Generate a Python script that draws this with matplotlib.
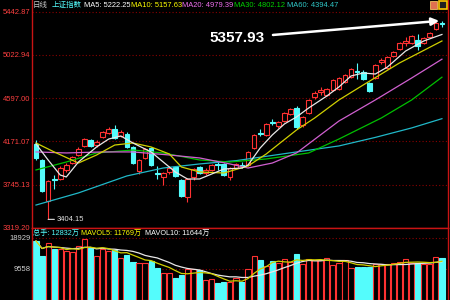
import matplotlib
matplotlib.use("Agg")
import matplotlib.pyplot as plt
from matplotlib.patches import Rectangle
import numpy as np
import pandas as pd

plt.rcParams['font.family'] = ['Liberation Sans', 'Noto Sans CJK SC', 'DejaVu Sans']

# ---------------- data ----------------
opens = [4145, 3988, 3585, 3801, 3801, 3889, 3958, 4037, 4126, 4184,
         4135, 4214, 4253, 4292, 4224, 4244, 4116, 3879, 4007, 4106,
         3860, 3821, 3870, 3919, 3791, 3624, 3821, 3919, 3860, 3889,
         3948, 3948, 3821, 3909, 3938, 3938, 4106, 4253, 4234, 4361,
         4322, 4371, 4440, 4499, 4332, 4450, 4607, 4656, 4627, 4676,
         4686, 4755, 4804, 4863, 4853, 4745, 4794, 4951, 4892, 5010,
         5079, 5138, 5138, 5168, 5138, 5197, 5276, 5335]
highs = [4184, 3995, 3791, 3840, 3929, 3958, 4027, 4115, 4204, 4194,
         4184, 4273, 4312, 4332, 4283, 4263, 4126, 3998, 4106, 4116,
         3929, 3870, 3929, 3929, 3801, 3811, 3909, 3929, 3909, 3948,
         3978, 3958, 3919, 3958, 3968, 4076, 4243, 4292, 4352, 4391,
         4371, 4460, 4499, 4519, 4420, 4588, 4666, 4705, 4696, 4784,
         4804, 4833, 4892, 4941, 4872, 4755, 4932, 4990, 5010, 5059,
         5148, 5197, 5217, 5227, 5197, 5246, 5345, 5357.93]
lows = [3988, 3670, 3404.15, 3703, 3791, 3870, 3948, 4027, 4116, 4116,
        4116, 4204, 4243, 4194, 4214, 4106, 3948, 3850, 3998, 3929,
        3801, 3742, 3850, 3821, 3624, 3575, 3791, 3850, 3840, 3879,
        3889, 3830, 3791, 3899, 3909, 3929, 4096, 4224, 4224, 4332,
        4302, 4361, 4430, 4292, 4312, 4440, 4588, 4627, 4617, 4666,
        4676, 4745, 4794, 4784, 4774, 4656, 4784, 4932, 4882, 5000,
        5069, 5109, 5128, 5069, 5128, 5187, 5266, 5295]
closes = [4007, 3683, 3781, 3791, 3909, 3939, 4017, 4096, 4194, 4126,
          4165, 4263, 4292, 4204, 4263, 4116, 3958, 3988, 4096, 3939,
          3850, 3860, 3909, 3830, 3634, 3801, 3899, 3860, 3889, 3939,
          3938, 3840, 3909, 3948, 3929, 4066, 4234, 4243, 4342, 4352,
          4361, 4450, 4489, 4312, 4410, 4578, 4646, 4676, 4686, 4774,
          4794, 4823, 4882, 4853, 4784, 4666, 4922, 4971, 5000, 5049,
          5138, 5158, 5207, 5109, 5187, 5236, 5335, 5325]
volumes = [18000, 13420, 17480, 15650, 15460, 14950, 14640, 16470, 18510, 15950,
           13420, 15460, 14950, 15160, 12900, 13730, 11680, 11380, 11380, 11900,
           9850, 8330, 8140, 6620, 7530, 9360, 9360, 9060, 6010, 6310,
           5280, 5490, 5580, 6710, 5580, 9360, 13420, 12110, 10370, 11900,
           11380, 12410, 11680, 13940, 10890, 12600, 12110, 12110, 12720, 10580,
           11380, 12200, 9850, 10070, 10070, 10070, 10890, 11070, 11000, 11300,
           11500, 12500, 11300, 11300, 11000, 10900, 13000, 12832]

ma5_idx = [0, 2, 4, 5, 7, 10, 12, 14, 16, 19, 21, 23, 25, 27, 29, 31, 34, 35, 37,
           39, 41, 43, 45, 48, 50, 52, 54, 56, 58, 61, 64, 67]
ma5_val = [4145, 3988, 3840, 3821, 3968, 4116, 4194, 4224, 4155, 4067, 3968, 3870,
           3801, 3801, 3850, 3899, 3909, 3939, 4106, 4234, 4342, 4411, 4499, 4617,
           4706, 4814, 4843, 4833, 4902, 5059, 5158, 5222]
ma10_idx = [0, 3, 7, 10, 13, 16, 19, 22, 24, 27, 31, 35, 38, 43, 46, 50, 54, 60, 67]
ma10_val = [4155, 4067, 3958, 4037, 4135, 4155, 4116, 4047, 3919, 3870, 3860, 3929,
            4047, 4283, 4401, 4578, 4725, 4942, 5158]
ma20_idx = [0, 5, 11, 16, 22, 27, 32, 35, 39, 43, 50, 56, 62, 67]
ma20_val = [4067, 4057, 4067, 4067, 4037, 4008, 3949, 3909, 3958, 4057, 4371, 4578,
            4794, 4979]
ma30_idx = [0, 5, 10, 16, 21, 27, 32, 38, 45, 50, 57, 62, 67]
ma30_val = [3890, 3968, 4057, 4086, 4057, 3988, 3968, 3998, 4057, 4194, 4401, 4578, 4802]
ma60_idx = [0, 7, 15, 21, 27, 33, 43, 50, 56, 62, 67]
ma60_val = [3545, 3664, 3831, 3909, 3949, 3981, 4067, 4126, 4210, 4303, 4394]

price_ticks = [5442.87, 5022.94, 4597.00, 4171.07, 3745.13, 3319.20]
vol_ticks = [18929, 9558]

title_items = [("日线", '#c8c8c8'), ("上证指数", '#54fcfc'),
               ("MA5: 5222.25", '#ffffff'), ("MA10: 5157.63", '#ffff00'),
               ("MA20: 4979.39", '#f070f0'), ("MA30: 4802.12", '#00d000'),
               ("MA60: 4394.47", '#30c8c8')]
title_x = [33, 52, 84, 131, 182, 234, 287]
vol_items = [("总手: 12832万", '#54fcfc'), ("MAVOL5: 11769万", '#ffff00'),
             ("MAVOL10: 11644万", '#ffffff')]
vol_x = [33, 81, 145]

# ---------------- style ----------------
RED = '#ff3232'
CYAN = '#54fcfc'
FRAME = '#c81414'
GRID = '#8a0000'

W, H = 450, 300
fig = plt.figure(figsize=(W / 100, H / 100), dpi=100, facecolor='black')


def box(x0, y0, x1, y1):
    return [x0 / W, 1 - y1 / H, (x1 - x0) / W, (y1 - y0) / H]


ax = fig.add_axes(box(32, 0, 448, 228))
axv = fig.add_axes(box(32, 228, 448, 300))

n = len(closes)
x = np.arange(n)
o = np.array(opens, float)
h = np.array(highs, float)
l = np.array(lows, float)
c = np.array(closes, float)
up = c >= o
cols = np.where(up, RED, CYAN)

p_top = price_ticks[0] + 12 * (price_ticks[0] - price_ticks[-1]) / 216
for a in (ax, axv):
    a.set_facecolor('black')
    a.set_xlim(-0.66, n)
    a.set_xticks([])
    for s in a.spines.values():
        s.set_color(FRAME)
        s.set_linewidth(1)
    a.tick_params(axis='y', length=0, pad=1.2, labelsize=5.5)

ax.set_ylim(price_ticks[-1], p_top)
ax.spines['top'].set_visible(False)
ax.set_yticks(price_ticks)
ax.set_yticklabels(['%.2f' % v for v in price_ticks])
ax.tick_params(axis='y', labelcolor='#ff4040')
for v in price_ticks[:-1]:
    ax.axhline(v, color=GRID, lw=0.8, ls=(0, (1, 2)), zorder=0)

# candles
body_lo = np.minimum(o, c)
body_hi = np.maximum(o, c)
heights = np.maximum(body_hi - body_lo, 2.0)
ax.vlines(x, l, body_lo, colors=cols, lw=0.8, zorder=2)
ax.vlines(x, body_hi, h, colors=cols, lw=0.8, zorder=2)
ax.bar(x, heights, bottom=body_lo, width=0.78,
       color=np.where(up, 'black', CYAN), edgecolor=cols, linewidth=0.8, zorder=3)

# moving averages
ax.plot(ma60_idx, ma60_val, color='#20b8c8', lw=0.9, zorder=4)
ax.plot(ma30_idx, ma30_val, color='#00c000', lw=0.9, zorder=4)
ax.plot(ma20_idx, ma20_val, color='#d060d0', lw=0.9, zorder=4)
ax.plot(ma10_idx, ma10_val, color='#d0d000', lw=0.9, zorder=4)
ax.plot(ma5_idx, ma5_val, color='#e8e8e8', lw=0.9, zorder=5)

# annotations
imin = int(np.argmin(l))
ax.annotate('%.2f' % l[imin], xy=(imin, l[imin]), xytext=(6.5, 0),
            textcoords='offset points', color='#e0e0e0', fontsize=5.5,
            va='center', ha='left',
            arrowprops=dict(arrowstyle='-', color='#e0e0e0', lw=0.8,
                            shrinkA=0, shrinkB=0), zorder=6)
imax = int(np.argmax(h))
ax.annotate('%.2f' % h[imax], xy=(imax, h[imax]), xytext=(-147.5, -12.5),
            textcoords='offset points', color='white', fontsize=11,
            fontweight='bold', va='center', ha='center',
            arrowprops=dict(arrowstyle='-|>', color='white', lw=1.8,
                            mutation_scale=11, shrinkA=4, shrinkB=2), zorder=6)

# volume panel
vmax = 72 * 305
axv.set_ylim(0, vmax)
axv.spines['bottom'].set_visible(False)
axv.set_yticks(vol_ticks)
axv.set_yticklabels([str(v) for v in vol_ticks])
axv.tick_params(axis='y', labelcolor='#d0d0d0')
for v in vol_ticks:
    axv.axhline(v, color=GRID, lw=0.8, ls=(0, (1, 2)), zorder=0)
axv.bar(x, volumes, width=0.86, color=np.where(up, 'black', CYAN),
        edgecolor=cols, linewidth=0.8, zorder=2)
vs = pd.Series(volumes, dtype=float)
axv.plot(x, vs.rolling(10, min_periods=1).mean(), color='#e8e8e8', lw=0.9, zorder=3)
axv.plot(x, vs.rolling(5, min_periods=1).mean(), color='#d0d000', lw=0.9, zorder=3)

# header texts
for (t, col), px in zip(title_items, title_x):
    fig.text(px / W, 1 - 5.5 / H, t, color=col, fontsize=5.4, va='center', ha='left')
for (t, col), px in zip(vol_items, vol_x):
    fig.text(px / W, 1 - 233 / H, t, color=col, fontsize=5.2, va='center', ha='left')

# small toolbar icons at top right
fig.patches.append(Rectangle((430 / W, 1 - 9 / H), 7 / W, 8 / H, transform=fig.transFigure,
                             facecolor='#e07050', edgecolor='#f0c060', lw=0.6))
fig.patches.append(Rectangle((439 / W, 1 - 9 / H), 8 / W, 8 / H, transform=fig.transFigure,
                             facecolor='#202020', edgecolor='#ffc800', lw=1.2))

fig.savefig('out.png', dpi=100, facecolor='black')
